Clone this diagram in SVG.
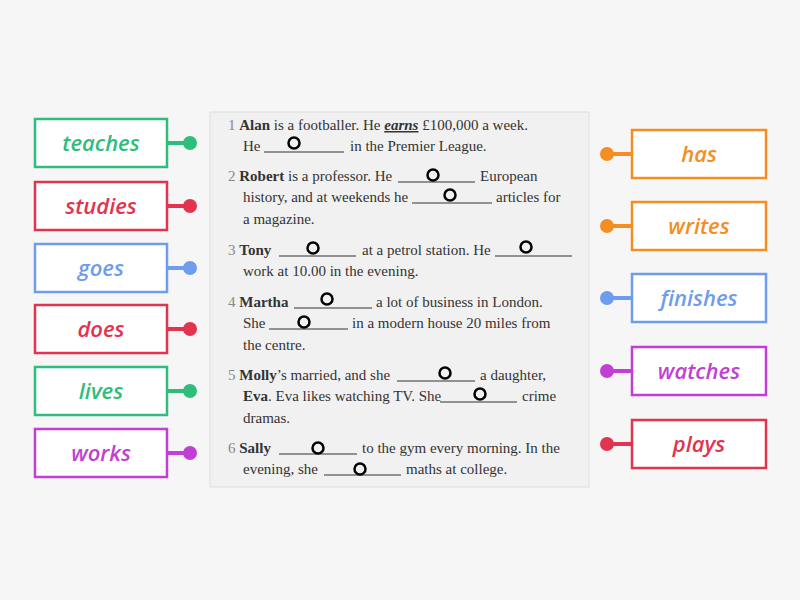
<svg xmlns="http://www.w3.org/2000/svg" width="800" height="600" viewBox="0 0 800 600">
<style>
.t{fill:#fff;stroke-width:2.5}
.l{font-family:"Open Sans","Liberation Sans",sans-serif;font-style:italic;font-weight:600;font-size:22px;text-anchor:middle}
.s{font-family:"Liberation Serif",serif;font-size:15px;fill:#333}
.n{fill:#888}
.h{fill:none;stroke:#000;stroke-width:2.5}
.u{stroke:#333;stroke-width:1}
</style>
<rect width="800" height="600" fill="#f7f6f6"/>
<g id="sheet">
<rect x="210" y="112" width="379" height="375" fill="#f1f1f1" stroke="#ddd"/>
<text class="s" x="228" y="130"><tspan class="n">1 </tspan><tspan font-weight="bold">Alan</tspan> is a footballer. He <tspan font-style="italic" font-weight="bold" text-decoration="underline">earns</tspan> £100,000 a week.</text>
<text class="s" x="243" y="151">He</text><line class="u" x1="264" y1="152" x2="344" y2="152"/><text class="s" x="350" y="151">in the Premier League.</text>
<text class="s" x="228" y="181"><tspan class="n">2 </tspan><tspan font-weight="bold">Robert</tspan> is a professor. He</text><line class="u" x1="398" y1="182" x2="475" y2="182"/><text class="s" x="480" y="181">European</text>
<text class="s" x="243" y="202">history, and at weekends he</text><line class="u" x1="412" y1="203" x2="492" y2="203"/><text class="s" x="496" y="202">articles for</text>
<text class="s" x="243" y="224">a magazine.</text>
<text class="s" x="228" y="255"><tspan class="n">3 </tspan><tspan font-weight="bold">Tony</tspan></text><line class="u" x1="279" y1="256" x2="356" y2="256"/><text class="s" x="362" y="255">at a petrol station. He</text><line class="u" x1="495" y1="256" x2="572" y2="256"/>
<text class="s" x="243" y="276">work at 10.00 in the evening.</text>
<text class="s" x="228" y="307"><tspan class="n">4 </tspan><tspan font-weight="bold">Martha</tspan></text><line class="u" x1="294" y1="308" x2="372" y2="308"/><text class="s" x="376" y="307">a lot of business in London.</text>
<text class="s" x="243" y="328">She</text><line class="u" x1="269" y1="329" x2="348" y2="329"/><text class="s" x="352" y="328">in a modern house 20 miles from</text>
<text class="s" x="243" y="350">the centre.</text>
<text class="s" x="228" y="380"><tspan class="n">5 </tspan><tspan font-weight="bold">Molly</tspan>’s married, and she</text><line class="u" x1="397" y1="381" x2="475" y2="381"/><text class="s" x="480" y="380">a daughter,</text>
<text class="s" x="243" y="401"><tspan font-weight="bold">Eva</tspan>. Eva likes watching TV. She</text><line class="u" x1="440" y1="402" x2="517" y2="402"/><text class="s" x="522" y="401">crime</text>
<text class="s" x="243" y="423">dramas.</text>
<text class="s" x="228" y="453"><tspan class="n">6 </tspan><tspan font-weight="bold">Sally</tspan></text><line class="u" x1="279" y1="454" x2="357" y2="454"/><text class="s" x="362" y="453">to the gym every morning. In the</text>
<text class="s" x="243" y="474">evening, she</text><line class="u" x1="324" y1="475" x2="401" y2="475"/><text class="s" x="406" y="474">maths at college.</text>
</g>
<g id="holes">
<circle class="h" cx="294" cy="143" r="5.5"/><circle class="h" cx="433" cy="175" r="5.5"/><circle class="h" cx="450" cy="195" r="5.5"/>
<circle class="h" cx="313" cy="248" r="5.5"/><circle class="h" cx="526" cy="247" r="5.5"/><circle class="h" cx="327" cy="299" r="5.5"/>
<circle class="h" cx="304" cy="322" r="5.5"/><circle class="h" cx="445" cy="373" r="5.5"/><circle class="h" cx="480" cy="394" r="5.5"/>
<circle class="h" cx="318" cy="448" r="5.5"/><circle class="h" cx="360" cy="469" r="5.5"/>
</g>
<g id="connectors" stroke-width="4">
<line x1="167" y1="143" x2="190" y2="143" stroke="#2ebd7d"/><line x1="167" y1="206" x2="190" y2="206" stroke="#e2334f"/>
<line x1="167" y1="268" x2="190" y2="268" stroke="#6e9cee"/><line x1="167" y1="329" x2="190" y2="329" stroke="#e2334f"/>
<line x1="167" y1="391" x2="190" y2="391" stroke="#2ebd7d"/><line x1="167" y1="453" x2="190" y2="453" stroke="#c23fd6"/>
<line x1="607" y1="154" x2="632" y2="154" stroke="#f58e22"/><line x1="607" y1="226" x2="632" y2="226" stroke="#f58e22"/>
<line x1="607" y1="298" x2="632" y2="298" stroke="#6e9cee"/><line x1="607" y1="371" x2="632" y2="371" stroke="#c23fd6"/>
<line x1="607" y1="444" x2="632" y2="444" stroke="#e2334f"/>
</g>
<g id="teaches"><rect class="t" x="35" y="119" width="132" height="48" stroke="#2ebd7d"/><circle cx="190" cy="143" r="7" fill="#2ebd7d"/><text class="l" x="101" y="151" fill="#2ebd7d">teaches</text></g>
<g id="studies"><rect class="t" x="35" y="182" width="132" height="48" stroke="#e2334f"/><circle cx="190" cy="206" r="7" fill="#e2334f"/><text class="l" x="101" y="214" fill="#e2334f">studies</text></g>
<g id="goes"><rect class="t" x="35" y="244" width="132" height="48" stroke="#6e9cee"/><circle cx="190" cy="268" r="7" fill="#6e9cee"/><text class="l" x="101" y="276" fill="#6e9cee">goes</text></g>
<g id="does"><rect class="t" x="35" y="305" width="132" height="48" stroke="#e2334f"/><circle cx="190" cy="329" r="7" fill="#e2334f"/><text class="l" x="101" y="337" fill="#e2334f">does</text></g>
<g id="lives"><rect class="t" x="35" y="367" width="132" height="48" stroke="#2ebd7d"/><circle cx="190" cy="391" r="7" fill="#2ebd7d"/><text class="l" x="101" y="399" fill="#2ebd7d">lives</text></g>
<g id="works"><rect class="t" x="35" y="429" width="132" height="48" stroke="#c23fd6"/><circle cx="190" cy="453" r="7" fill="#c23fd6"/><text class="l" x="101" y="461" fill="#c23fd6">works</text></g>
<g id="has"><rect class="t" x="632" y="130" width="134" height="48" stroke="#f58e22"/><circle cx="607" cy="154" r="7" fill="#f58e22"/><text class="l" x="699" y="162" fill="#f58e22">has</text></g>
<g id="writes"><rect class="t" x="632" y="202" width="134" height="48" stroke="#f58e22"/><circle cx="607" cy="226" r="7" fill="#f58e22"/><text class="l" x="699" y="234" fill="#f58e22">writes</text></g>
<g id="finishes"><rect class="t" x="632" y="274" width="134" height="48" stroke="#6e9cee"/><circle cx="607" cy="298" r="7" fill="#6e9cee"/><text class="l" x="699" y="306" fill="#6e9cee">finishes</text></g>
<g id="watches"><rect class="t" x="632" y="347" width="134" height="48" stroke="#c23fd6"/><circle cx="607" cy="371" r="7" fill="#c23fd6"/><text class="l" x="699" y="379" fill="#c23fd6">watches</text></g>
<g id="plays"><rect class="t" x="632" y="420" width="134" height="48" stroke="#e2334f"/><circle cx="607" cy="444" r="7" fill="#e2334f"/><text class="l" x="699" y="452" fill="#e2334f">plays</text></g>
</svg>
